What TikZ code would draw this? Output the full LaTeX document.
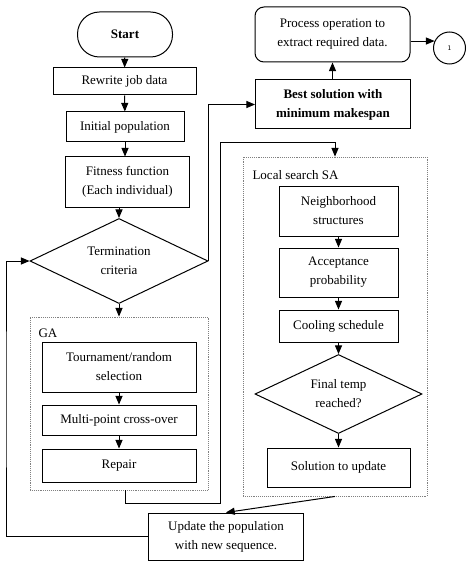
\documentclass[tikz,border=0pt]{standalone}
\usepackage{fontspec}
\setmainfont{Liberation Serif}
\usepackage{tikz}
\usetikzlibrary{arrows}
\usetikzlibrary{shapes.geometric}

\begin{document}
\begin{tikzpicture}[
    x=1pt, y=-1pt,
    >=triangle 45,
    every node/.style={color=black, font=\fontsize{13}{19}\selectfont, align=center},
    box/.style={draw, line width=1pt, inner sep=2pt},
    round box/.style={draw, line width=1pt, rounded corners=9pt},
    decision/.style={draw, diamond, line width=1pt, aspect=2.1, inner sep=0pt},
    group box/.style={draw=gray, densely dotted, line width=0.9pt},
    flow arrow/.style={->, line width=1pt}
    ]

    \useasboundingbox (0,0) rectangle (474,564);

    % dotted groups
    \node[group box, minimum width=178pt, minimum height=173pt] (gabox) at (119,403.5) {};
    \node[group box, minimum width=184pt, minimum height=339pt] (sabox) at (335,326.5) {};
    \node[anchor=west] (galabel) at (35,333) {GA};
    \node[anchor=west] (salabel) at (249,175) {Local search SA};

    % left column
    \node[round box, rounded corners=22pt, minimum width=95pt, minimum height=45pt] (start) at (125,34.5) {\textbf{Start}};
    \node[box, minimum width=143pt, minimum height=27pt] (rewrite) at (124.5,81.5) {Rewrite job data};
    \node[box, minimum width=118pt, minimum height=30pt] (initpop) at (125,127) {Initial population};
    \node[box, minimum width=124pt, minimum height=50pt] (fitness) at (127.5,182) {Fitness function\\(Each individual)};
    \node[decision, minimum width=178pt, minimum height=85pt] (term) at (119,261) {Termination\\criteria};

    % GA
    \node[box, minimum width=154pt, minimum height=50pt] (tourn) at (119,367) {Tournament/random\\selection};
    \node[box, minimum width=154pt, minimum height=30pt] (cross) at (119,420) {Multi-point cross-over};
    \node[box, minimum width=154pt, minimum height=33pt] (repair) at (119,465.5) {Repair};

    % right column
    \node[round box, minimum width=155pt, minimum height=55pt] (process) at (332.5,34.5) {Process operation to\\extract required data.};
    \node[draw, circle, line width=1pt, minimum size=32pt, inner sep=0pt, font=\sffamily\scriptsize] (circ) at (449.5,48) {1};
    \node[box, minimum width=155pt, minimum height=49pt] (best) at (333,104.5) {\textbf{Best solution with}\\\textbf{minimum makespan}};

    % SA
    \node[box, minimum width=119pt, minimum height=50pt] (neigh) at (338.5,211) {Neighborhood\\structures};
    \node[box, minimum width=119pt, minimum height=49pt] (accept) at (338.5,272.5) {Acceptance\\probability};
    \node[box, minimum width=119pt, minimum height=32pt] (cool) at (338.5,326) {Cooling schedule};
    \node[decision, minimum width=167pt, minimum height=79pt] (final) at (338.5,394) {Final temp\\reached?};
    \node[box, minimum width=143pt, minimum height=39pt] (solution) at (338.5,467.5) {Solution to update};

    \node[box, minimum width=155pt, minimum height=47pt] (update) at (226,536.5) {Update the population\\with new sequence.};

    % corners
    \coordinate (ga2sa) at (220,143);
    \coordinate (fback) at (6,400);

    % arrows
    \draw[flow arrow] (start) -- (rewrite);
    \draw[flow arrow] (rewrite) -- (initpop);
    \draw[flow arrow] (initpop.south) -- (initpop.south |- fitness.north);
    \draw[flow arrow] (fitness.south -| term.north) -- (term.north);
    \draw[flow arrow] (term.south) -- (gabox.north);
    \draw[flow arrow] (term.east) |- (best.west);
    \draw[flow arrow] (best.north -| process.south) -- (process.south);
    \draw[flow arrow] (process.east |- circ.155) -- (circ.155);
    \draw[flow arrow] ([xshift=6pt]gabox.south) -- ++(0,13) -| (ga2sa) -| (sabox.north);
    \draw[flow arrow] (tourn) -- (cross);
    \draw[flow arrow] (cross) -- (repair);
    \draw[flow arrow] (neigh) -- (accept);
    \draw[flow arrow] (accept) -- (cool);
    \draw[flow arrow] (cool) -- (final);
    \draw[flow arrow] (final) -- (solution);
    \draw[flow arrow] (sabox.south) -- (update.north);
    \draw[flow arrow] (update.west) -| (fback) |- (term.west);

\end{tikzpicture}
\end{document}
